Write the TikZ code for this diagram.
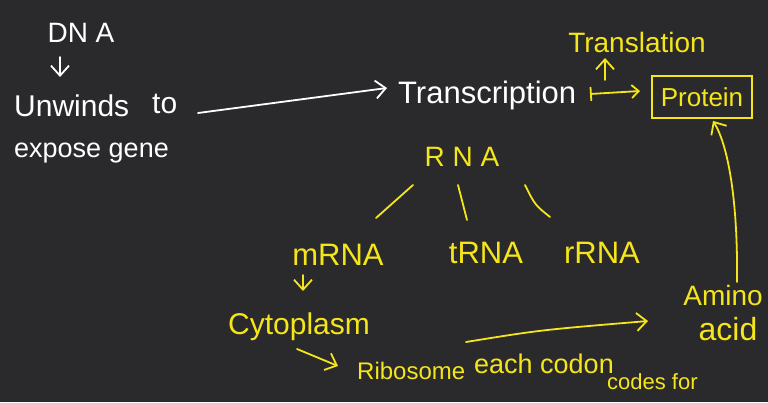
\documentclass[tikz,border=0pt]{standalone}
\usepackage{fontspec}
\setmainfont{Liberation Sans}
\usetikzlibrary{arrows.meta}
\definecolor{bg}{HTML}{2A2A2D}
\definecolor{hy}{HTML}{F5E51B}
\newcommand{\fs}[1]{\fontsize{#1}{#1}\selectfont}
\begin{document}
\begin{tikzpicture}[x=1pt,y=-1pt,
  wtxt/.style={text=white,font=\fs{30},inner sep=0pt},
  ytxt/.style={text=hy,font=\fs{30},inner sep=0pt},
  wline/.style={draw=white,line width=1.8pt,line cap=round},
  yline/.style={draw=hy,line width=1.8pt,line cap=round},
  tip/.style={-{Straight Barb[length=10pt,width=18pt]}}]
\fill[bg] (0,0) rectangle (768,402);
\useasboundingbox (0,0) rectangle (768,402);
% white part
\node[wtxt,font=\fs{28}] (dna) at (81,33) {DN A};
\node[wtxt,anchor=west] (unw) at (14,106) {Unwinds};
\node[wtxt,anchor=west] (to) at (152,104) {to};
\node[wtxt,font=\fs{27},anchor=west] (exp) at (14,153) {expose gene};
\node[wtxt,font=\fs{31},anchor=west] (tr) at (398,95) {Transcription};
\coordinate (a1) at (60,57);
\coordinate (a2) at (60,77);
\draw[wline,tip] (a1) -- (a2);
\coordinate (b1) at (198,113);
\coordinate (b2) at (387,88);
\draw[wline,tip] (b1) -- (b2);
% yellow part
\node[ytxt,font=\fs{28}] (tl) at (637,42) {Translation};
\node[ytxt,font=\fs{26},draw=hy,line width=1.8pt,minimum width=100pt,minimum height=42pt] (prot) at (702,97) {Protein};
\coordinate (c1) at (590,94);
\coordinate (c2) at (640,91);
\draw[yline,{Bar[width=14pt]}-{Straight Barb[length=7pt,width=13pt]}] (c1) -- (c2);
\coordinate (d1) at (605,80);
\coordinate (d2) at (605,58);
\draw[yline,tip] (d1) -- (d2);
\node[ytxt,font=\fs{28}] (rna) at (462,157) {R N A};
\coordinate (e1) at (413,185); \coordinate (e2) at (376,218);
\coordinate (f1) at (458,185); \coordinate (f2) at (467,220);
\coordinate (g1) at (525,185); \coordinate (g2) at (550,217);
\draw[yline] (e1) -- (e2);
\draw[yline] (f1) -- (f2);
\draw[yline] (g1) .. controls (535,205) .. (g2);
\node[ytxt,font=\fs{31}] (mrna) at (338,255) {mRNA};
\node[ytxt,font=\fs{31}] (trna) at (486,253) {tRNA};
\node[ytxt,font=\fs{31}] (rrna) at (602,253) {rRNA};
\coordinate (h1) at (303,275);
\coordinate (h2) at (303,291);
\draw[yline,tip] (h1) -- (h2);
\node[ytxt,anchor=west] (cyto) at (228,327) {Cytoplasm};
\coordinate (i1) at (297,349);
\coordinate (i2) at (338,366);
\draw[yline,tip] (i1) -- (i2);
\node[ytxt,font=\fs{24},anchor=west] (ribo) at (357,371) {Ribosome};
\node[ytxt,font=\fs{27},anchor=west] (each) at (474,364) {each codon};
\node[ytxt,font=\fs{22},anchor=west] (codes) at (607,382) {codes for};
\coordinate (j1) at (466,342);
\coordinate (j2) at (648,321);
\draw[yline,tip] (j1) .. controls (540,330) .. (j2);
\node[ytxt,font=\fs{28}] (amino) at (723,295) {Amino};
\node[ytxt,font=\fs{32}] (acid) at (728,329) {acid};
\coordinate (k1) at (737,282);
\draw[yline,tip] (k1) .. controls (738,200) and (728,145) .. ([xshift=11pt,yshift=-2pt]prot.south);
\end{tikzpicture}
\end{document}
